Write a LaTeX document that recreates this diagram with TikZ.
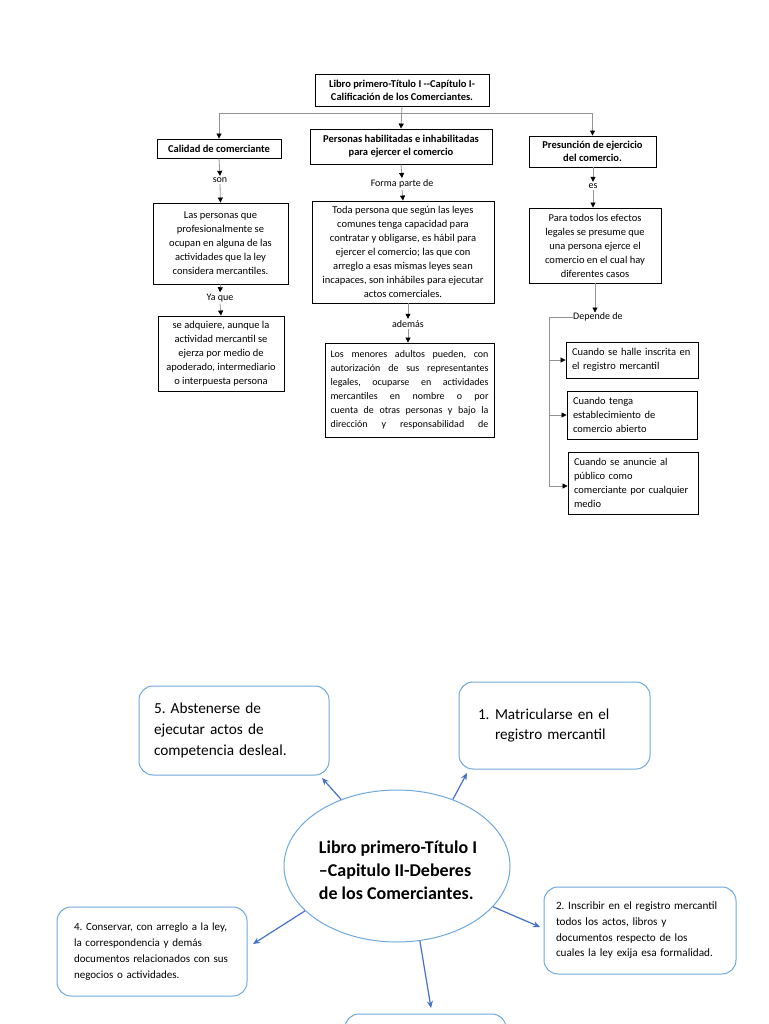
\documentclass[tikz,border=0pt]{standalone}
\usepackage{fontspec}
\setmainfont{Carlito}
\usetikzlibrary{arrows.meta,shapes.geometric}
\definecolor{boxblue}{HTML}{6FA8DC}
\definecolor{arrblue}{HTML}{4472C4}
\frenchspacing
\hyphenpenalty=10000
\begin{document}
\begin{tikzpicture}[x=1pt,y=-1pt,
  box/.style={draw=black,line width=0.9pt,inner sep=0pt,align=center,font=\fontsize{10.5}{14}\selectfont},
  hbox/.style={box,font=\bfseries\fontsize{10.5}{13}\selectfont},
  lbox/.style={box,align=left,inner xsep=6pt},
  lbl/.style={inner sep=1.5pt,font=\fontsize{10}{12}\selectfont},
  conn/.style={draw=gray!85,line width=0.8pt,-{Triangle[length=5pt,width=5pt,color=black]}},
  plainline/.style={draw=gray!85,line width=0.8pt},
  rbox/.style={draw=boxblue,line width=1pt,rounded corners=14pt,align=left,inner ysep=0pt},
  barrow/.style={draw=arrblue,line width=1.2pt,-{Stealth[length=7pt,width=6pt]}}]
\useasboundingbox (0,0) rectangle (768,1024);
\fill[white] (0,0) rectangle (768,1024);
\clip (0,0) rectangle (768,1024);

% ---------- top diagram ----------
\node[hbox,minimum width=174pt,minimum height=32pt] (title) at (402,90) {Libro primero-Título I -{}-Capítulo I-\\Calificación de los Comerciantes.};
\node[hbox,minimum width=124pt,minimum height=19pt] (cal) at (219,148.5) {Calidad de comerciante};
\node[hbox,minimum width=182pt,minimum height=35pt] (pers) at (401,146.5) {Personas habilitadas e inhabilitadas\\para ejercer el comercio};
\node[hbox,minimum width=127pt,minimum height=31pt] (pres) at (592.5,151.5) {Presunción de ejercicio\\del comercio.};

\coordinate (hub) at (402,113);
\draw[conn] (title.south) -- (pers.north);
\draw[conn] (hub) -| (cal.north);
\draw[conn] (hub) -| (pres.north);

% left column
\node[lbl] (son) at (220,180) {son};
\node[box,minimum width=135pt,minimum height=81pt] (lasp) at (220.5,243.5) {Las personas que\\profesionalmente se\\ocupan en alguna de las\\actividades que la ley\\considera mercantiles.};
\node[lbl] (yaque) at (220,298) {Ya que};
\node[box,minimum width=126pt,minimum height=75pt] (seadq) at (221,353.5) {se adquiere, aunque la\\actividad mercantil se\\ejerza por medio de\\apoderado, intermediario\\o interpuesta persona};
\draw[conn] (cal.south) -- (son.north);
\draw[conn] (son.south) -- (lasp.north);
\draw[conn] (lasp.south) -- (yaque.north);
\draw[conn] (yaque.south) -- (seadq.north);

% middle column
\node[lbl] (forma) at (402,184) {Forma parte de};
\node[box,minimum width=182pt,minimum height=102pt] (toda) at (403,252) {Toda persona que según las leyes\\comunes tenga capacidad para\\contratar y obligarse, es hábil para\\ejercer el comercio; las que con\\arreglo a esas mismas leyes sean\\incapaces, son inhábiles para ejecutar\\actos comerciales.};
\node[lbl] (ademas) at (408,324) {además};
\node[box,minimum width=169pt,minimum height=94pt,font=\fontsize{10}{14}\selectfont] (menores) at (409.5,390) {\makebox[158pt][s]{Los menores adultos pueden, con}\\\makebox[158pt][s]{autorización de sus representantes}\\\makebox[158pt][s]{legales, ocuparse en actividades}\\\makebox[158pt][s]{mercantiles en nombre o por}\\\makebox[158pt][s]{cuenta de otras personas y bajo la}\\\makebox[158pt][s]{dirección y responsabilidad de}};
\draw[conn] (pers.south) -- (forma.north);
\draw[conn] (forma.south) -- (toda.north);
\draw[conn] (toda.south -| ademas.north) -- (ademas.north);
\draw[conn] (ademas.south) -- (menores.north -| ademas.south);

% right column
\node[lbl] (es) at (593,186) {es};
\node[box,minimum width=132pt,minimum height=75pt] (para) at (595,245.5) {Para todos los efectos\\legales se presume que\\una persona ejerce el\\comercio en el cual hay\\diferentes casos};
\node[lbl,anchor=west,inner sep=0pt] (dep) at (573,317) {Depende de};
\node[lbox,minimum width=132pt,minimum height=36pt,text width=120pt] (c1) at (632,360) {Cuando se halle inscrita en\\el registro mercantil};
\node[lbox,minimum width=130pt,minimum height=48pt,text width=118pt] (c2) at (632,415) {Cuando tenga\\establecimiento de\\comercio abierto};
\node[lbox,minimum width=130pt,minimum height=62pt,text width=118pt] (c3) at (633,483) {Cuando se anuncie al\\público como\\comerciante por cualquier\\medio};
\draw[conn] (pres.south -| es.north) -- (es.north);
\draw[conn] (es.south) -- (para.north -| es.south);
\draw[conn] (para.south) -- (para.south |- dep.north);
\coordinate (trunk) at (549,317);
\coordinate (trunkend) at (549,486);
\draw[plainline] (dep.west) -- (trunk) -- (trunkend);
\draw[conn] (trunk |- c1.west) -- (c1.west);
\draw[conn] (trunk |- c2.west) -- (c2.west);
\draw[conn] (trunkend) -- (trunkend -| c3.west);

% ---------- bottom diagram ----------
\node[draw=boxblue,line width=1pt,ellipse,minimum width=226pt,minimum height=152pt,inner sep=0pt] (ell) at (397,866) {};
\node[align=left,inner sep=0pt,font=\bfseries\fontsize{18}{23}\selectfont] (elltext) at (398,870) {Libro primero-Título I\\–Capitulo II-Deberes\\de los Comerciantes.};

\node[rbox,minimum width=190pt,minimum height=89pt,text width=160pt,inner xsep=15pt,font=\fontsize{15.3}{21}\selectfont] (b5) at (234,730.5) {5. Abstenerse de\\ejecutar actos de\\competencia desleal.};
\node[rbox,minimum width=191pt,minimum height=87pt,text width=153pt,inner xsep=19pt,font=\fontsize{15.2}{20}\selectfont] (b1) at (554.5,725.5) {\makebox[17pt][l]{1.}Matricularse en el\\\hspace*{17pt}registro mercantil};
\node[rbox,minimum width=192pt,minimum height=87pt,text width=168pt,inner xsep=12pt,font=\fontsize{11.2}{15.7}\selectfont] (b2) at (640,930.5) {2. Inscribir en el registro mercantil\\todos los actos, libros y\\documentos respecto de los\\cuales la ley exija esa formalidad.};
\node[rbox,minimum width=190pt,minimum height=89pt,text width=156pt,inner xsep=17pt,font=\fontsize{11}{16}\selectfont] (b4) at (152,951.5) {4. Conservar, con arreglo a la ley,\\la correspondencia y demás\\documentos relacionados con sus\\negocios o actividades.};
\node[rbox,minimum width=161pt,minimum height=80pt] (b3) at (425.5,1054) {};

\coordinate (t5) at (322,778);
\coordinate (t1) at (467,773);
\coordinate (t2) at (540,927);
\coordinate (t4) at (253,944);
\coordinate (t3) at (431,1008);
\draw[barrow] (ell.130) -- (t5);
\draw[barrow] (ell.50) -- (t1);
\draw[barrow] (ell.-23) -- (t2);
\draw[barrow] (ell.-154) -- (t4);
\draw[barrow] (ell.-73) -- (t3);
\end{tikzpicture}
\end{document}
